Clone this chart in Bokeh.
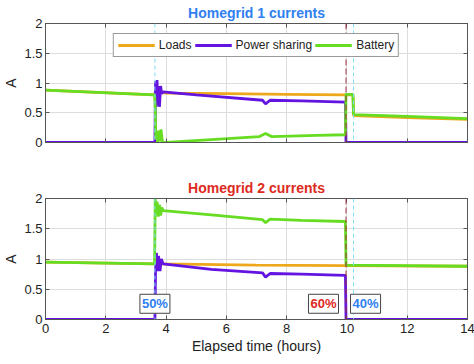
from bokeh.plotting import figure
from bokeh.models import Span, Label, LinearAxis, Legend, LegendItem, FixedTicker, Range1d
from bokeh.layouts import column
from bokeh.embed import file_html
from bokeh.resources import INLINE

# ---------------- data ----------------
x_ticks = [0, 2, 4, 6, 8, 10, 12, 14]
y_ticks = [0, 0.5, 1, 1.5, 2]

# Homegrid 1
hg1_loads_t = [0, 3.60, 3.65, 4.0, 6.0, 8.0, 9.97, 10.20, 10.22, 12.0, 14]
hg1_loads_v = [0.88, 0.80, 0.85, 0.83, 0.82, 0.81, 0.80, 0.80, 0.45, 0.42, 0.39]

hg1_share_t = [0, 3.63, 3.65, 3.68, 3.70, 3.72, 3.75, 3.78, 3.82, 3.85, 3.90, 5.0, 7.2, 7.3, 7.45, 8.5, 9.95, 9.97, 14]
hg1_share_v = [0, 0, 1.03, 0.60, 1.05, 0.75, 0.95, 0.60, 0.95, 0.82, 0.85, 0.80, 0.71, 0.65, 0.71, 0.70, 0.68, 0, 0]

hg1_batt_t = [0, 3.62, 3.64, 3.66, 3.70, 3.72, 3.75, 3.80, 3.83, 3.88, 4.0, 5.5, 7.1, 7.3, 7.5, 9.0, 9.95, 9.97, 10.20, 10.22, 12.0, 14]
hg1_batt_v = [0.88, 0.80, 0.60, 0.05, 0.20, 0.0, 0.20, 0.02, 0.22, 0.0, 0.0, 0.05, 0.10, 0.15, 0.10, 0.12, 0.13, 0.81, 0.81, 0.47, 0.44, 0.40]

# Homegrid 2
hg2_loads_t = [0, 3.60, 3.65, 3.90, 7.0, 9.95, 9.97, 14]
hg2_loads_v = [0.95, 0.92, 0.93, 0.92, 0.90, 0.89, 0.89, 0.88]

hg2_share_t = [0, 3.63, 3.65, 3.68, 3.72, 3.75, 3.80, 3.84, 3.90, 5.5, 7.2, 7.3, 7.45, 8.5, 9.95, 9.97, 14]
hg2_share_v = [0, 0, 0.80, 1.10, 0.80, 1.05, 0.80, 1.00, 0.92, 0.83, 0.77, 0.70, 0.76, 0.75, 0.73, 0, 0]

hg2_batt_t = [0, 3.62, 3.64, 3.66, 3.70, 3.74, 3.78, 3.82, 3.86, 3.90, 5.5, 7.2, 7.3, 7.45, 8.5, 9.95, 9.97, 14]
hg2_batt_v = [0.95, 0.92, 2.00, 1.75, 1.95, 1.70, 1.90, 1.72, 1.85, 1.80, 1.73, 1.65, 1.60, 1.66, 1.64, 1.62, 0.90, 0.88]

events_cyan = [3.63, 10.22]
event_red = 9.97

series_names = ["Loads", "Power sharing", "Battery"]
soc_labels = ["50%", "60%", "40%"]
soc_label_x = [3.63, 9.72, 10.12]
soc_label_y = 0.26

# ---------------- styling ----------------
FONT = "Liberation Sans"
C_LOADS = "#EEA81C"
C_SHARE = "#6414E0"
C_BATT = "#66DD22"
C_BLUE = "#2F80F0"
C_RED = "#DD2A1E"
AX = "#555555"


def style(p, show_xlabels):
    p.xgrid.grid_line_color = "#dddddd"
    p.ygrid.grid_line_color = "#dddddd"
    p.outline_line_color = AX
    p.outline_line_width = 1
    for ax in p.xaxis + p.yaxis:
        ax.major_tick_in = 4
        ax.major_tick_out = 0
        ax.minor_tick_line_color = None
        ax.axis_line_color = AX
        ax.major_tick_line_color = AX
        ax.major_label_text_font = FONT
        ax.major_label_text_font_size = "13px"
        ax.major_label_text_color = "#222222"
        ax.axis_label_text_font = FONT
        ax.axis_label_text_font_size = "14px"
        ax.axis_label_text_font_style = "normal"
        ax.axis_label_text_color = "#222222"
    p.xaxis.ticker = FixedTicker(ticks=x_ticks)
    p.yaxis.ticker = FixedTicker(ticks=y_ticks)
    p.yaxis.major_label_standoff = 3
    p.yaxis.axis_label = "A"
    p.yaxis.axis_label_standoff = 2
    p.xaxis.major_label_standoff = 4
    if not show_xlabels:
        p.xaxis.major_label_text_color = None
        p.xaxis.major_label_text_font_size = "1px"
    # box ticks on top and right
    for loc, tk in (("above", x_ticks), ("right", y_ticks)):
        ax = LinearAxis(ticker=FixedTicker(ticks=tk), major_label_text_color=None,
                        major_label_text_font_size="1px", major_label_standoff=0,
                        major_tick_in=4, major_tick_out=0, minor_tick_line_color=None,
                        axis_line_color=AX, major_tick_line_color=AX)
        p.add_layout(ax, loc)
    p.title.text_font = FONT
    p.title.text_font_size = "14px"
    p.title.text_font_style = "bold"
    p.title.align = "center"


def spans(p):
    for x in events_cyan:
        p.add_layout(Span(location=x, dimension="height", line_color="#7FDDF5",
                          line_dash="4 3", line_width=1))
    p.add_layout(Span(location=event_red, dimension="height", line_color="#A03040",
                      line_dash="6 3", line_width=1))


def make(title, tcolor, data, frame_h, bot_b, standoff, show_xlabels):
    p = figure(frame_width=422, frame_height=frame_h, x_range=Range1d(0, 14), y_range=Range1d(0, 2),
               output_backend="svg", toolbar_location=None, title=title,
               min_border_left=30, min_border_right=8, min_border_top=0, min_border_bottom=bot_b)
    p.title.text_color = tcolor
    style(p, show_xlabels)
    p.title.standoff = standoff
    spans(p)
    renderers = []
    for (t, v), c in zip(data, [C_LOADS, C_SHARE, C_BATT]):
        r = p.line(t, v, line_color=c, line_width=2.8)
        renderers.append(r)
    return p, renderers


p1, r1 = make("Homegrid 1 currents", C_BLUE,
              [(hg1_loads_t, hg1_loads_v), (hg1_share_t, hg1_share_v), (hg1_batt_t, hg1_batt_v)],
              119, 32, 5, False)
p2, r2 = make("Homegrid 2 currents", C_RED,
              [(hg2_loads_t, hg2_loads_v), (hg2_share_t, hg2_share_v), (hg2_batt_t, hg2_batt_v)],
              121, 0, 6, True)
p2.below[0].axis_label = "Elapsed time (hours)"
p2.below[0].axis_label_standoff = 2

legend = Legend(items=[LegendItem(label=n, renderers=[r]) for n, r in zip(series_names, r1)],
                orientation="horizontal", location="top_center",
                label_text_font=FONT, label_text_font_size="12px", label_text_color="#222222",
                glyph_width=37, glyph_height=10, label_standoff=4, spacing=3, padding=4,
                margin=10, border_line_color="#333333", background_fill_alpha=1,
                label_height=13)
p1.add_layout(legend)

for txt, x, col, align in zip(soc_labels, soc_label_x, [C_BLUE, C_RED, C_BLUE], ["center", "right", "left"]):
    p2.add_layout(Label(x=x, y=soc_label_y, text=txt, text_color=col, text_font=FONT, text_font_size="13px",
                        text_font_style="bold", text_align=align, text_baseline="middle",
                        background_fill_color="white", border_line_color="#444444",
                        padding=2))

layout = column(p1, p2, spacing=0)
open("out.html", "w").write(file_html(layout, INLINE))
